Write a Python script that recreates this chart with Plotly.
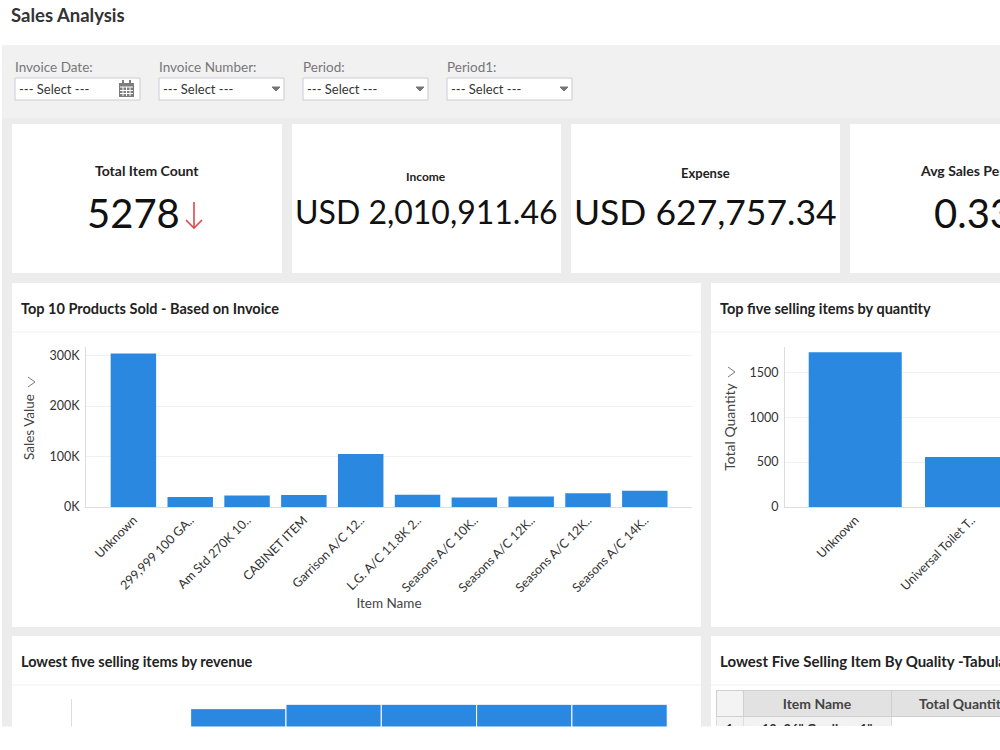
import plotly.graph_objects as go

W = 1000
H = 750

# top 10 chart
top10_items = ["Unknown", "299,999 100 GA..", "Am Std 270K 10..", "CABINET ITEM", "Garrison A/C 12..",
               "L.G. A/C 11.8K 2..", "Seasons A/C 10K..", "Seasons A/C 12K..", "Seasons A/C 12K..", "Seasons A/C 14K.."]
top10_sales = [304000, 20000, 23000, 24000, 105000, 24500, 19000, 21000, 27000, 32000]
top10_ticks = [0, 100000, 200000, 300000]
top10_ticklabels = ["0K", "100K", "200K", "300K"]

# top five by quantity (only the first two fit in the page)
qty_items = ["Unknown", "Universal Toilet T.."]
qty_values = [1723, 557]
qty_ticks = [0, 500, 1000, 1500]

# lowest five by revenue, axis is cut off so the units are relative
low_items = ["a", "b", "c", "d", "e"]
low_values = [94, 96.7, 96.7, 96.7, 96.7]

# table
table_rows = ["1"]
table_names = ['10x26" Gardless 1"']
table_qty = [""]

filters = ["Invoice Date:", "Invoice Number:", "Period:", "Period1:"]
filter_x = [15, 159, 303, 447]

BLUE = "#2a88e0"
FONT = "Lato"


def px(x):
    return x / W


def py(y):
    return 1 - y / H


def box(x0, y0, x1, y1, fill, line=None, layer="below"):
    return dict(type="rect", xref="paper", yref="paper", x0=px(x0), x1=px(x1), y0=py(y0), y1=py(y1),
                fillcolor=fill, line=dict(color=line or fill, width=1 if line else 0), layer=layer)


def seg(x0, y0, x1, y1, color, width=1):
    return dict(type="line", xref="paper", yref="paper", x0=px(x0), x1=px(x1), y0=py(y0), y1=py(y1),
                line=dict(color=color, width=width), layer="below")


def poly(points, color, fill=None, width=1):
    path = "M " + " L ".join(f"{px(a):.4f} {py(b):.4f}" for a, b in points)
    if fill:
        path += " Z"
    return dict(type="path", xref="paper", yref="paper", path=path, layer="below",
                fillcolor=fill or "rgba(0,0,0,0)", line=dict(color=color, width=width))


def label(x, y, text, size, color="#222222", anchor="left", bold=False):
    # left anchored annotations sit about 2px to the right of x
    if anchor == "left":
        x -= 2
    return dict(xref="paper", yref="paper", x=px(x), y=py(y), text=text, showarrow=False, xanchor=anchor,
                yanchor="middle", font=dict(family=FONT, size=size, color=color, weight=700 if bold else 400))


shapes = [box(2, 45, 1000, 118, "#f1f1f2"), box(2, 118, 1000, 727, "#ececec")]
annotations = [label(11, 15, "Sales Analysis", 18.5, "#333333", bold=True)]

# filter bar
for name, x in zip(filters, filter_x):
    shapes.append(box(x, 78, x + 125, 100, "#ffffff", "#c9cdd6"))
    annotations.append(label(x, 67, name, 13.5, "#777777"))
    annotations.append(label(x + 4, 89, "--- Select ---", 13, "#333333"))
    if x != filter_x[0]:
        shapes.append(poly([(x + 113, 87), (x + 121, 87), (x + 117, 91)], "#777777", "#777777"))

# little calendar icon
shapes.append(box(119, 83, 134, 97, "#7d7d7d"))
shapes.append(seg(123, 80, 123, 84, "#7d7d7d", 2))
shapes.append(seg(130, 80, 130, 84, "#7d7d7d", 2))
for gx in [123, 126.5, 130]:
    shapes.append(seg(gx, 87, gx, 96, "#ffffff"))
for gy in [87, 90.5, 93.5]:
    shapes.append(seg(120, gy, 133, gy, "#ffffff"))

# kpi cards
for x0, x1 in [(12, 282), (292, 561), (571, 840), (850, 1000)]:
    shapes.append(box(x0, 124, x1, 273, "#ffffff"))
annotations += [
    label(147, 171, "Total Item Count", 14, bold=True, anchor="center"),
    label(133, 213, "5278", 40, "#111111", anchor="center"),
    label(426, 176, "Income", 12, bold=True, anchor="center"),
    label(426, 211, "USD 2,010,911.46", 32, "#111111", anchor="center"),
    label(705, 173, "Expense", 13, bold=True, anchor="center"),
    label(705, 212, "USD 627,757.34", 35.5, "#111111", anchor="center"),
    label(920, 171, "Avg Sales Per Item", 14, bold=True),
    label(934, 213, "0.33", 40, "#111111"),
]
shapes.append(seg(194, 202, 194, 228, "#e0464c", 1.6))
shapes.append(poly([(186, 220), (194, 228), (202, 220)], "#e0464c", width=1.6))

# chart cards
for x0, y0, x1, y1, title, size in [
    (12, 283, 701, 627, "Top 10 Products Sold - Based on Invoice", 14.5),
    (711, 283, 1000, 627, "Top five selling items by quantity", 14.5),
    (12, 636, 701, 727, "Lowest five selling items by revenue", 14.5),
    (711, 636, 1000, 727, "Lowest Five Selling Item By Quality -Tabular", 15),
]:
    shapes.append(box(x0, y0, x1, y1, "#ffffff"))
    shapes.append(seg(x0, y0 + 49, x1, y0 + 49, "#f0f0f0"))
    annotations.append(label(x0 + 9, y0 + 25, title, size, bold=True))

# chevrons next to axis titles
shapes.append(poly([(28, 377), (35, 382), (28, 387)], "#777777"))
shapes.append(poly([(728, 367), (735, 372), (728, 377)], "#777777"))

# bottom edge of the screenshot is blank
shapes.append(box(0, 726.5, 1000, 750, "#ffffff", layer="above"))

fig = go.Figure()
fig.add_trace(go.Bar(x=list(range(10)), y=top10_sales, marker_color=BLUE, marker_line_width=0, xaxis="x", yaxis="y"))
fig.add_trace(go.Bar(x=[0, 1], y=qty_values, marker_color=BLUE, marker_line_width=0, xaxis="x2", yaxis="y2"))
fig.add_trace(go.Bar(x=low_items, y=low_values, marker_color=BLUE, marker_line=dict(color="#ffffff", width=1),
                     width=1, xaxis="x3", yaxis="y3"))
fig.add_trace(go.Table(
    domain=dict(x=[px(716), 1], y=[py(726.5), py(690)]),
    columnwidth=[27, 148, 109],
    header=dict(values=["", "Item Name", "\u00a0\u00a0\u00a0\u00a0\u00a0\u00a0Total\u00a0Quantity"],
                fill_color=[["#f3f3f3"], ["#e2e2e2"], ["#e2e2e2"]], line_color="#cfcfcf", height=26,
                align=["center", "center", "left"],
                font=dict(family=FONT, size=14, color="#444444", weight=700)),
    cells=dict(values=[table_rows, table_names, table_qty], fill_color=["#f3f3f3", "#f2f2f2", "#ffffff"],
               line_color="#dddddd", height=24, align=["center", "center", "left"],
               font=dict(family=FONT, size=13, color="#333333", weight=700)),
))

tick_font = dict(family=FONT, size=12.5, color="#333333")
grid = "#f0f0f0"
axline = "#dddddd"

fig.update_layout(
    width=W, height=H, margin=dict(l=0, r=0, t=0, b=0), autosize=False,
    paper_bgcolor="#ffffff", plot_bgcolor="rgba(0,0,0,0)", showlegend=False,
    bargap=0.2, shapes=shapes, annotations=annotations,
    xaxis=dict(domain=[px(86), px(692)], range=[-0.834, 9.83], tickmode="array", tickvals=list(range(10)),
               ticktext=top10_items, tickangle=-45, tickfont=tick_font, showgrid=False, showline=True,
               linecolor=axline, ticks="", automargin=False,
               title=dict(text="Item Name", font=dict(family=FONT, size=13.5, color="#444444"), standoff=3),
               anchor="y"),
    yaxis=dict(domain=[py(507), py(347)], range=[0, 317000], tickvals=top10_ticks, ticktext=top10_ticklabels,
               tickfont=tick_font, gridcolor=grid, showline=True, linecolor=axline, zeroline=False, ticks="",
               ticklabelstandoff=3, automargin=False,
               title=dict(text="Sales Value", font=dict(family=FONT, size=13.5, color="#444444"), standoff=11),
               anchor="x"),
    xaxis2=dict(domain=[px(785), 1], range=[-0.604, 1.245], tickmode="array", tickvals=[0, 1], ticktext=qty_items,
                tickangle=-45, tickfont=tick_font, showgrid=False, showline=True, linecolor=axline, ticks="",
                automargin=False, anchor="y2"),
    yaxis2=dict(domain=[py(507), py(347)], range=[0, 1782], tickvals=qty_ticks, tickfont=tick_font, gridcolor=grid,
                showline=True, linecolor=axline, zeroline=False, ticks="", ticklabelstandoff=3, automargin=False,
                title=dict(text="Total Quantity", font=dict(family=FONT, size=14, color="#444444"), standoff=10),
                anchor="x2"),
    xaxis3=dict(domain=[px(72), px(692)], range=[-1.745, 4.76], showticklabels=False, showgrid=False, ticks="",
                anchor="y3", categoryorder="array", categoryarray=low_items),
    yaxis3=dict(domain=[0, py(699)], range=[68.3, 100], showticklabels=False, showgrid=False, showline=True,
                linecolor=axline, zeroline=False, ticks="", anchor="x3"),
)

# page has a default body margin, drop it so the figure fills the window
fig.write_html("out.html", config=dict(displayModeBar=False), post_script="document.body.style.margin='0';")
